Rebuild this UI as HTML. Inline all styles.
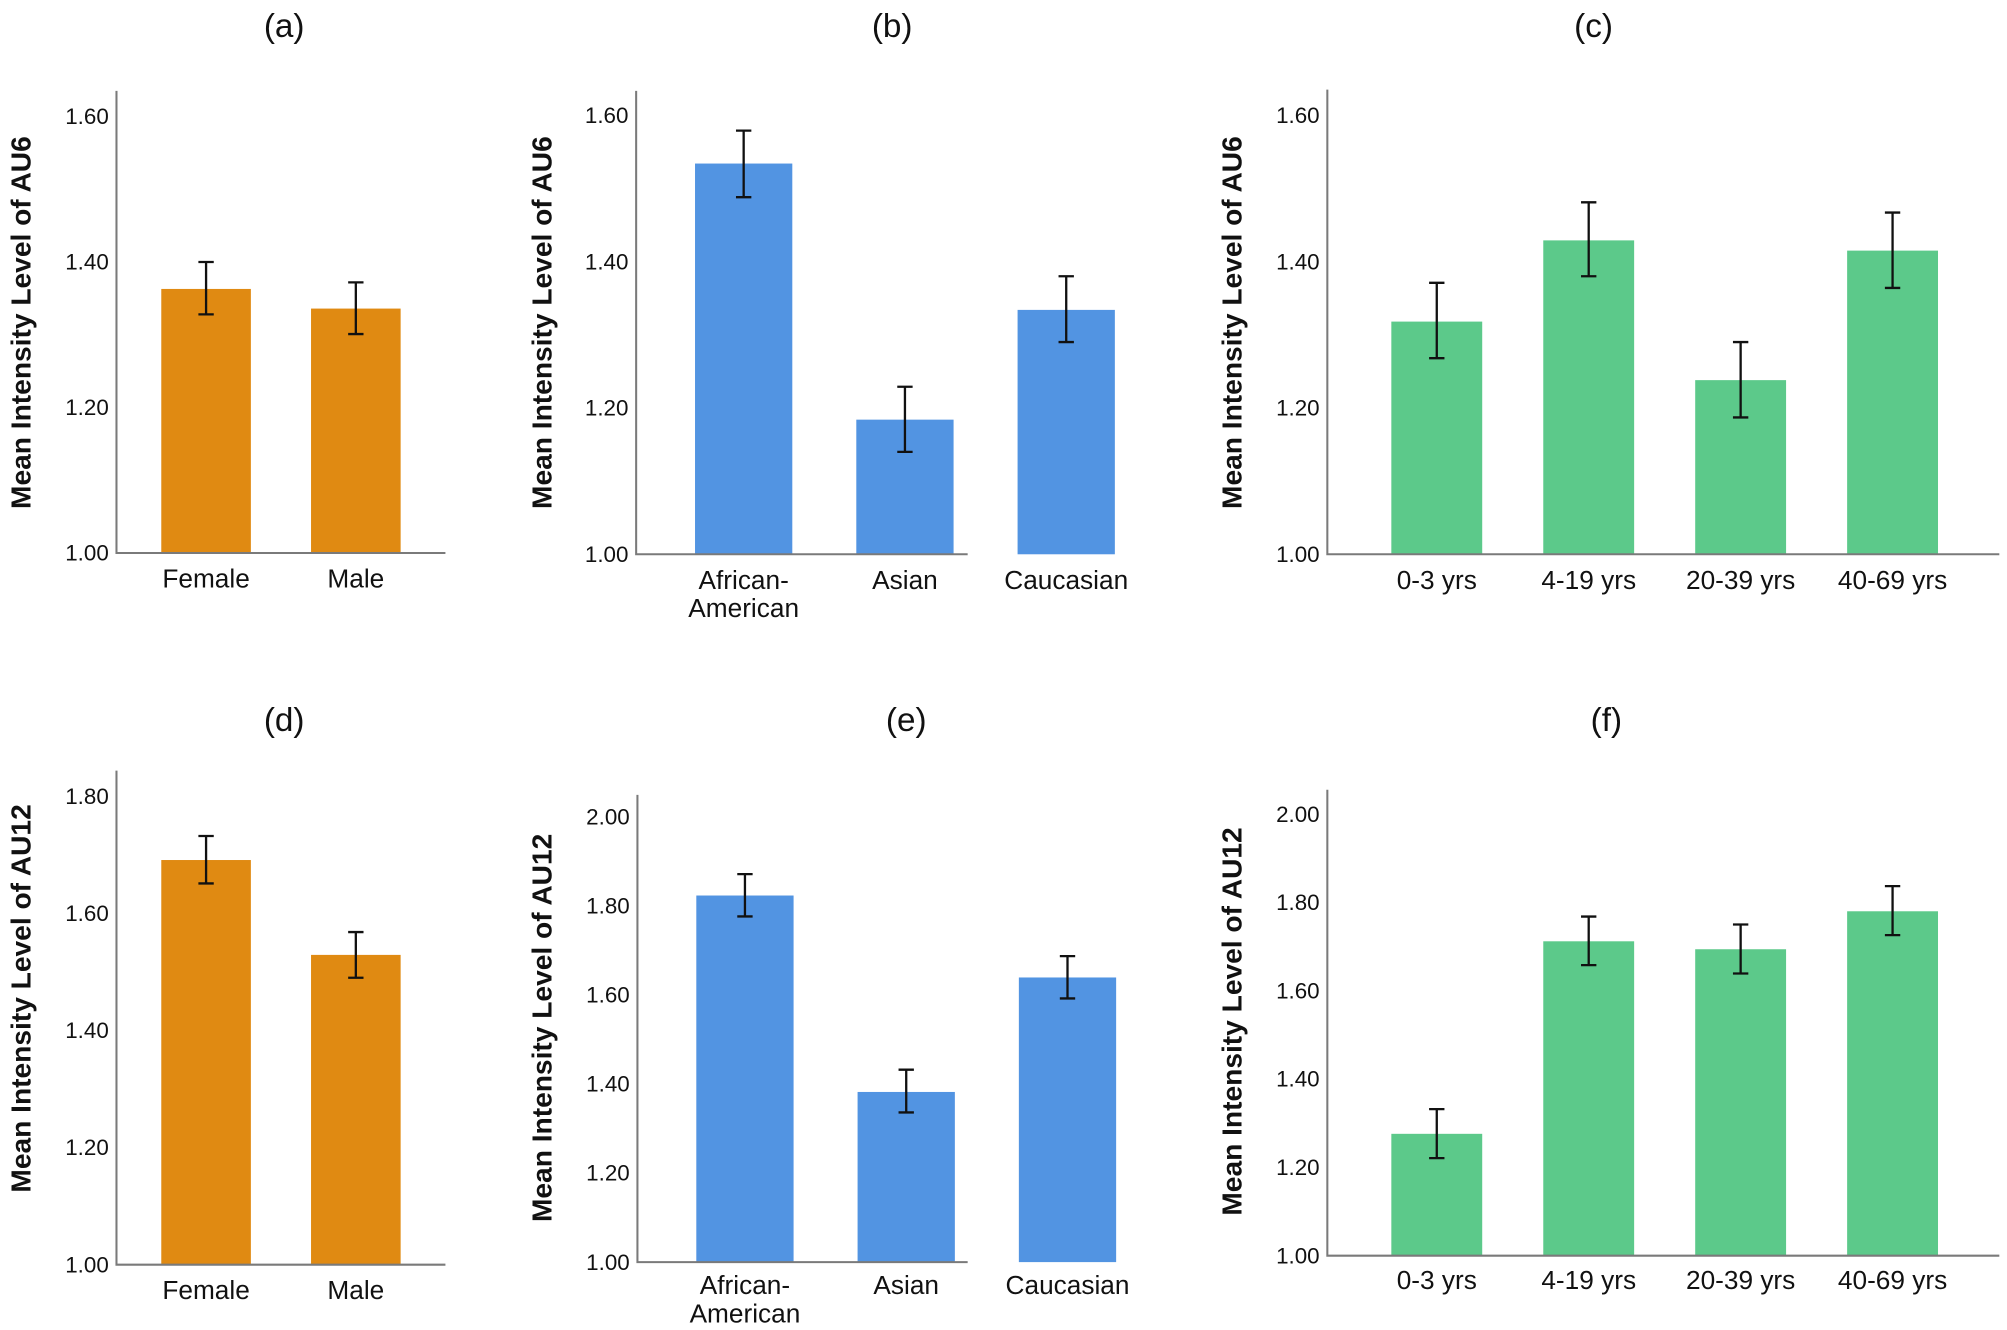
<!DOCTYPE html>
<html><head><meta charset="utf-8"><style>
html,body{margin:0;padding:0;background:#fff;}
svg{display:block;}
text{font-family:"Liberation Sans","DejaVu Sans",sans-serif;fill:#111;}
</style></head><body>
<svg id="fig" width="2007" height="1330" viewBox="0 0 1568 1039" xmlns="http://www.w3.org/2000/svg"></svg>
<script>
// ---- data ----
const titles = ["(a)","(b)","(c)","(d)","(e)","(f)"];
const yTitles = ["Mean Intensity Level of AU6","Mean Intensity Level of AU6","Mean Intensity Level of AU6","Mean Intensity Level of AU12","Mean Intensity Level of AU12","Mean Intensity Level of AU12"];
const catsGender = ["Female","Male"];
const catsRace = ["African-\nAmerican","Asian","Caucasian"];
const catsAge = ["0-3 yrs","4-19 yrs","20-39 yrs","40-69 yrs"];
const valsA = [1.363,1.336]; const loA = [1.328,1.301]; const hiA = [1.400,1.372];
const valsB = [1.534,1.184,1.334]; const loB = [1.488,1.140,1.290]; const hiB = [1.579,1.229,1.380];
const valsC = [1.318,1.429,1.238,1.415]; const loC = [1.268,1.380,1.187,1.364]; const hiC = [1.371,1.481,1.290,1.467];
const valsD = [1.691,1.529]; const loD = [1.651,1.490]; const hiD = [1.732,1.568];
const valsE = [1.823,1.382,1.639]; const loE = [1.776,1.336,1.592]; const hiE = [1.871,1.432,1.687];
const valsF = [1.276,1.712,1.694,1.780]; const loF = [1.221,1.658,1.639,1.726]; const hiF = [1.332,1.768,1.750,1.837];
const ticksTop = [1.00,1.20,1.40,1.60];
const ticksD = [1.00,1.20,1.40,1.60,1.80];
const ticksEF = [1.00,1.20,1.40,1.60,1.80,2.00];

const NS="http://www.w3.org/2000/svg";
const svg=document.getElementById('fig');
function mk(tag,attrs,parent){const e=document.createElementNS(NS,tag);for(const k in attrs)e.setAttribute(k,attrs[k]);(parent||svg).appendChild(e);return e;}

const panels=[
 {id:'a',cats:catsGender,vals:valsA,lo:loA,hi:hiA,ticks:ticksTop,color:'#E08A12',ax:91,right:348,top:71,base:432,yMax:1.60,yMaxPx:91,barW:70,first:161,step:117,titleX:222,titleY:20,ytX:16,ytY:252,labY:459},
 {id:'b',cats:catsRace,vals:valsB,lo:loB,hi:hiB,ticks:ticksTop,color:'#5294E2',ax:497,right:756,top:71,base:433,yMax:1.60,yMaxPx:90,barW:76,first:581,step:126,titleX:697,titleY:20,ytX:423,ytY:252,labY:460},
 {id:'c',cats:catsAge,vals:valsC,lo:loC,hi:hiC,ticks:ticksTop,color:'#5CC98A',ax:1037,right:1562,top:70,base:433,yMax:1.60,yMaxPx:90,barW:71,first:1122.5,step:118.7,titleX:1245,titleY:20,ytX:962,ytY:252,labY:460},
 {id:'d',cats:catsGender,vals:valsD,lo:loD,hi:hiD,ticks:ticksD,color:'#E08A12',ax:91,right:348,top:602,base:988,yMax:1.80,yMaxPx:622,barW:70,first:161,step:117,titleX:222,titleY:562,ytX:16,ytY:780,labY:1015},
 {id:'e',cats:catsRace,vals:valsE,lo:loE,hi:hiE,ticks:ticksEF,color:'#5294E2',ax:498,right:756,top:621,base:986,yMax:2.00,yMaxPx:638,barW:76,first:582,step:126,titleX:708,titleY:562,ytX:423,ytY:803,labY:1011},
 {id:'f',cats:catsAge,vals:valsF,lo:loF,hi:hiF,ticks:ticksEF,color:'#5CC98A',ax:1037,right:1562,top:617,base:981,yMax:2.00,yMaxPx:636,barW:71,first:1122.5,step:118.7,titleX:1255,titleY:562,ytX:962,ytY:798,labY:1007}
];

panels.forEach((p,pi)=>{
  const g=mk('g',{});
  
  
  const y=v=>p.base-(v-1)/(p.yMax-1)*(p.base-p.yMaxPx);
  const t=mk('text',{x:p.titleX,y:p.titleY+9,'text-anchor':'middle','font-size':26},g);
  t.textContent=titles[pi];
  
  
  const yt=mk('text',{x:0,y:0,transform:`translate(${p.ytX+8},${p.ytY}) rotate(-90)`,'text-anchor':'middle','font-size':22,'font-weight':'bold'},g);
  yt.textContent=yTitles[pi];
  
  
  p.ticks.forEach(tv=>{
    const tl=mk('text',{x:p.ax-6,y:y(tv)+6,'text-anchor':'end','font-size':17.5},g);
    tl.textContent=tv.toFixed(2);
    
    
  });
  p.vals.forEach((v,i)=>{
    const cx=p.first+i*p.step;
    const r=mk('rect',{x:cx-p.barW/2,y:y(v),width:p.barW,height:p.base-y(v),fill:p.color},g);
    
    
    const eb=mk('path',{d:`M${cx} ${y(p.hi[i])}V${y(p.lo[i])}M${cx-6} ${y(p.hi[i])}H${cx+6}M${cx-6} ${y(p.lo[i])}H${cx+6}`,stroke:'#111','stroke-width':1.8,fill:'none'},g);
    
    
    const lines=p.cats[i].split('\n');
    lines.forEach((ln,li)=>{
      const xl=mk('text',{x:cx,y:p.labY+li*22,'text-anchor':'middle','font-size':20.5},g);
      xl.textContent=ln;
      
      
    });
  });
  const axes=mk('path',{d:`M${p.ax} ${p.top}V${p.base}H${p.right}`,stroke:'#7a7a7a','stroke-width':1.6,fill:'none'},g);
  
  
});
</script>
</body></html>
